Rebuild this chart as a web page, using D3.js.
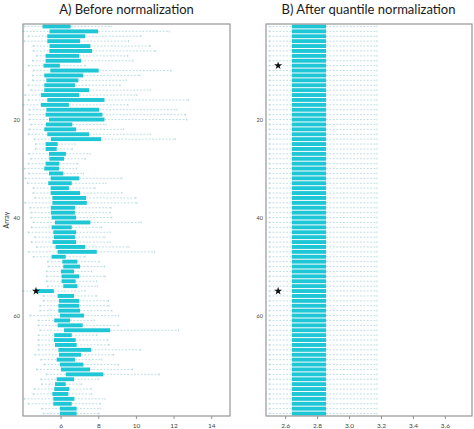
<!DOCTYPE html>
<html>
<head>
<meta charset="utf-8">
<script src="https://cdn.jsdelivr.net/npm/d3@7"></script>
<style>
	body { margin: 0; background: #fff; }
	svg { display: block; }
	text { font-family: "Lato", "Open Sans", sans-serif; }
</style>
</head>
<body>
<div id="chart"></div>
<script>
///////////////////////////////////////////////////////////////////////////
//////////////////////////// data /////////////////////////////////////////
///////////////////////////////////////////////////////////////////////////

// arrays 1..80, top to bottom
const arrays = d3.range(1, 81);

// A) raw log intensities: lower whisker, Q1, Q3, upper whisker
const rawLow = [4.06,4.0,4.28,4.06,4.54,4.54,4.72,4.51,4.28,4.54, 4.51,4.51,4.28,4.42,4.10,4.28,4.0,4.33,4.33,4.33,
	4.42,4.33,4.28,4.60,4.67,4.67,4.31,4.42,4.28,4.06, 4.31,4.10,4.24,4.54,4.54,4.63,4.10,4.37,4.42,4.42,
	4.54,4.45,4.28,4.63,4.45,4.72,4.31,4.54,5.31,5.34, 5.25,5.25,5.25,5.31,4.0,5.08,5.08,4.90,4.90,4.37,
	4.81,4.81,4.90,4.81,4.80,4.81,4.81,4.63,4.95,5.13, 4.72,5.25,4.95,4.99,4.60,4.54,4.06,4.28,4.99,5.08];
const rawQ1 = [5.04,5.41,5.29,5.29,5.41,5.40,5.20,5.20,5.09,5.45, 5.13,5.24,5.13,5.13,4.95,5.29,4.95,5.24,5.20,5.38,
	5.22,5.13,5.29,5.48,5.20,5.20,5.38,5.40,5.20,5.13, 5.38,5.47,5.34,5.47,5.47,5.56,5.56,5.48,5.48,5.52,
	5.70,5.52,5.61,5.64,5.57,5.73,5.84,5.52,6.09,6.14, 6.02,6.05,6.05,6.14,4.67,5.84,5.91,5.88,5.88,5.96,
	5.66,5.84,6.18,5.66,5.64,5.70,5.88,5.91,5.79,5.96, 6.02,6.27,5.79,5.70,5.66,5.56,5.61,5.61,5.96,5.96];
const rawQ3 = [6.53,7.99,7.30,7.03,7.58,7.67,6.99,7.08,5.96,8.02, 7.19,6.94,6.76,7.51,6.99,8.33,6.44,8.04,8.22,8.33,
	6.62,6.82,7.51,8.15,5.84,5.79,6.28,6.18,5.93,5.91, 6.14,6.99,6.59,6.44,7.03,7.35,7.39,6.76,6.76,6.82,
	7.58,6.59,6.82,6.76,6.82,7.30,7.92,6.27,6.89,7.03, 6.71,6.99,6.80,6.89,5.64,6.71,6.99,6.99,7.03,7.24,
	6.50,7.17,8.63,6.59,6.80,6.85,7.62,7.08,6.76,7.21, 7.56,8.27,6.71,6.27,6.46,6.41,6.73,6.59,6.85,6.85];
const rawHigh = [8.68,11.77,10.26,9.61,10.76,11.03,9.57,9.84,7.30,11.86, 10.21,9.48,9.16,10.76,10.05,12.80,9.57,12.18,12.63,12.71,
	8.42,9.34,10.76,12.09,6.76,6.62,7.56,7.30,6.91,6.85, 7.21,9.25,8.40,7.83,9.25,10.0,10.05,8.68,8.63,8.72,
	10.28,8.18,8.63,8.36,8.63,9.64,10.99,7.30,8.04,8.33, 7.65,8.36,7.92,7.97,7.30,7.92,8.54,8.58,8.72,9.07,
	7.79,9.07,12.27,7.92,8.50,8.58,10.23,8.81,8.18,9.07, 9.82,11.24,8.0,7.12,7.62,7.65,8.36,8.10,8.10,8.04];

// B) after quantile normalization every array has the same distribution
const normStats = { low: 2.5, q1: 2.642, q3: 2.856, high: 3.175 };

// flagged arrays (stars)
const starsA = [{ array: 55, value: 4.69 }];
const starsB = [{ array: 9, value: 2.556 }, { array: 55, value: 2.556 }];

// tick labels
const ticksXA = [6, 8, 10, 12, 14];
const ticksXB = [2.6, 2.8, 3.0, 3.2, 3.4, 3.6];
const ticksY = [20, 40, 60];

///////////////////////////////////////////////////////////////////////////
//////////////////////////// Set up svg ///////////////////////////////////
///////////////////////////////////////////////////////////////////////////

const width = 474;
const height = 429;
const plotTop = 24;
const plotBottom = 416;
const boxCol = "#1fc6d6";
const whiskCol = "#9fcfd8";
const frameCol = "#959595";

const svg = d3
	.select("#chart")
	.append("svg")
	.attr("width", width)
	.attr("height", height);

const yScale = d3.scaleLinear().domain([0.5, 80.5]).range([plotTop, plotBottom]);
const boxH = (yScale(1) - yScale(0)) * 0.8;

const rawData = arrays.map((a, i) => ({
	array: a,
	low: rawLow[i],
	q1: rawQ1[i],
	q3: rawQ3[i],
	high: rawHigh[i]
}));
const normData = arrays.map((a) => Object.assign({ array: a }, normStats));

///////////////////////////////////////////////////////////////////////////
//////////////////////////// panels ///////////////////////////////////////
///////////////////////////////////////////////////////////////////////////

function panel(opts) {
	const xScale = d3.scaleLinear().domain(opts.domain).range(opts.range);
	const g = svg.append("g");

	// whiskers (dashed, like R's lty = 2)
	const wh = g.selectAll(".whisk").data(opts.data).enter().append("g");
	wh.append("line")
		.attr("x1", (d) => xScale(d.low))
		.attr("x2", (d) => xScale(d.q1))
		.attr("y1", (d) => yScale(d.array))
		.attr("y2", (d) => yScale(d.array));
	wh.append("line")
		.attr("x1", (d) => xScale(d.q3))
		.attr("x2", (d) => xScale(d.high))
		.attr("y1", (d) => yScale(d.array))
		.attr("y2", (d) => yScale(d.array));
	wh.selectAll("line")
		.attr("stroke", whiskCol)
		.attr("stroke-width", 0.7)
		.attr("stroke-dasharray", "1.8,1.6");
	// staples
	["low", "high"].forEach((k) => {
		wh.append("line")
			.attr("x1", (d) => xScale(d[k]))
			.attr("x2", (d) => xScale(d[k]))
			.attr("y1", (d) => yScale(d.array) - boxH / 4)
			.attr("y2", (d) => yScale(d.array) + boxH / 4)
			.attr("stroke", whiskCol)
			.attr("stroke-width", 0.7);
	});

	// boxes
	g.selectAll(".box")
		.data(opts.data)
		.enter()
		.append("rect")
		.attr("x", (d) => xScale(d.q1))
		.attr("width", (d) => xScale(d.q3) - xScale(d.q1))
		.attr("y", (d) => yScale(d.array) - boxH / 2)
		.attr("height", boxH)
		.attr("fill", boxCol);

	// stars
	g.selectAll(".star")
		.data(opts.stars)
		.enter()
		.append("path")
		.attr("d", d3.symbol(d3.symbolStar, 20))
		.attr("transform", (d) => "translate(" + xScale(d.value) + "," + yScale(d.array) + ")")
		.attr("fill", "#111");

	// frame
	g.append("rect")
		.attr("x", opts.range[0])
		.attr("y", plotTop)
		.attr("width", opts.range[1] - opts.range[0])
		.attr("height", plotBottom - plotTop)
		.attr("fill", "none")
		.attr("stroke", frameCol)
		.attr("stroke-width", 1.2);

	// axes
	const xAxis = d3.axisBottom(xScale).tickValues(opts.ticks).tickSize(3).tickFormat(opts.fmt);
	const ax = g.append("g").attr("transform", "translate(0," + plotBottom + ")").call(xAxis);
	ax.select(".domain").remove();
	ax.selectAll("line").attr("stroke", frameCol);
	ax.selectAll("text").attr("font-size", 6.5).attr("fill", "#444").attr("dy", "0.9em");

	const yAxis = d3.axisLeft(yScale).tickValues(ticksY).tickSize(0).tickPadding(3);
	const ay = g.append("g").attr("transform", "translate(" + opts.range[0] + ",0)").call(yAxis);
	ay.select(".domain").remove();
	ay.selectAll("text").attr("font-size", 5.5).attr("fill", "#444");

	// title
	svg.append("text")
		.attr("x", opts.titleX)
		.attr("y", 14)
		.attr("text-anchor", "middle")
		.attr("font-size", 13)
		.attr("fill", "#1a1a1a")
		.text(opts.title);
}

panel({
	data: rawData,
	stars: starsA,
	domain: [4, 15],
	range: [23, 230],
	ticks: ticksXA,
	fmt: d3.format("d"),
	title: "A) Before normalization",
	titleX: 126.5
});

panel({
	data: normData,
	stars: starsB,
	domain: [2.48, 3.77],
	range: [266, 472],
	ticks: ticksXB,
	fmt: d3.format(".1f"),
	title: "B) After quantile normalization",
	titleX: 368.5
});

// y label
svg.append("text")
	.attr("transform", "translate(9," + yScale(40.5) + ") rotate(-90)")
	.attr("text-anchor", "middle")
	.attr("font-size", 7)
	.attr("fill", "#333")
	.text("Array");
</script>
</body>
</html>
